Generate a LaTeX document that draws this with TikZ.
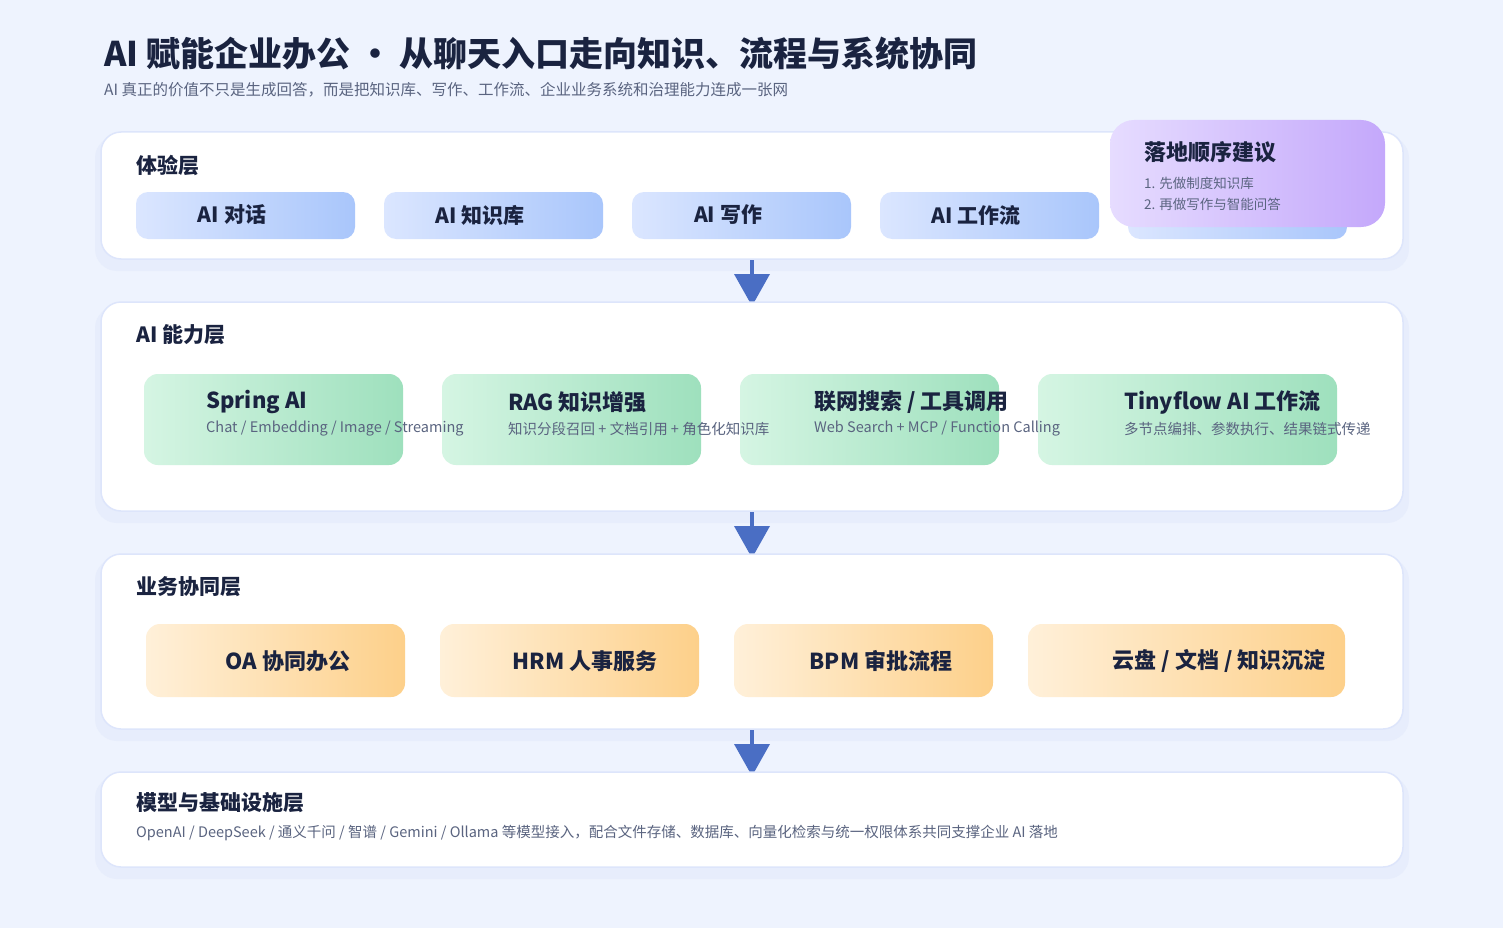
\documentclass[tikz,border=0pt]{standalone}
\usepackage{fontspec}
\setmainfont{Noto Sans CJK SC}
\definecolor{bg}{HTML}{EEF3FE}
\definecolor{ink}{HTML}{1A2340}
\definecolor{sub}{HTML}{5A6480}
\definecolor{pb}{HTML}{DDE5FB}
\definecolor{arr}{HTML}{4A6EC4}
\tikzset{
 panel/.style={draw=pb,line width=1.5pt,fill=white,rounded corners=20pt},
 shad/.style={fill={rgb,255:red,200;green,212;blue,245},opacity=0.18,rounded corners=22pt},
 bbox/.style={rounded corners=12pt,shading=axis,shading angle=135,left color={rgb,255:red,219;green,230;blue,255},right color={rgb,255:red,169;green,198;blue,251}},
 gbox/.style={rounded corners=14pt,shading=axis,shading angle=135,left color={rgb,255:red,213;green,245;blue,227},right color={rgb,255:red,158;green,224;blue,189}},
 obox/.style={rounded corners=14pt,shading=axis,shading angle=135,left color={rgb,255:red,255;green,240;blue,217},right color={rgb,255:red,253;green,208;blue,138}},
 pbox/.style={rounded corners=24pt,shading=axis,shading angle=135,left color={rgb,255:red,230;green,220;blue,255},right color={rgb,255:red,196;green,168;blue,251}},
 lay/.style={anchor=west,font=\bfseries\fontsize{21}{24}\selectfont,text=ink,inner sep=0},
 btxt/.style={font=\bfseries\fontsize{21}{24}\selectfont,text=ink,inner sep=0},
 gt/.style={anchor=west,font=\bfseries\fontsize{22}{26}\selectfont,text=ink,inner sep=0},
 gs/.style={anchor=west,font=\fontsize{14.5}{17}\selectfont,text=sub,inner sep=0},
 down/.style={draw=none,fill=arr},
}
\begin{document}
\begin{tikzpicture}[x=1pt,y=-1pt]
\fill[bg] (0,0) rectangle (1503,928);
\useasboundingbox (0,0) rectangle (1503,928);
\node[anchor=west,inner sep=0,font=\bfseries\fontsize{34}{38}\selectfont,text=ink] (title) at (104,54) {AI 赋能企业办公 · 从聊天入口走向知识、流程与系统协同};
\node[anchor=west,inner sep=0,font=\fontsize{15.5}{18}\selectfont,text=sub] (subt) at (104,90) {AI 真正的价值不只是生成回答，而是把知识库、写作、工作流、企业业务系统和治理能力连成一张网};
% shadows
\foreach \a/\b in {132/259,302/511,554/729,772/867}{
 \fill[shad] (95,\a+4) rectangle (1409,\b+12);
}
% panel 1
\path[panel] (101,132) rectangle (1403,259);
\node[lay] (l1) at (136,165) {体验层};
\foreach \x/\t/\n in {136/{AI 对话}/a1,384/{AI 知识库}/a2,632/{AI 写作}/a3,880/{AI 工作流}/a4,1128/{}/a5}{
 \path[bbox] (\x,192) rectangle ++(219,47);
 \node[btxt] (\n) at (\x+96,215) {\t};
}
\path[pbox] (1110,120) rectangle (1385,227);
\node[anchor=west,inner sep=0,font=\bfseries\fontsize{22}{26}\selectfont,text=ink] (ct) at (1144,152) {落地顺序建议};
\node[anchor=west,inner sep=0,font=\fontsize{13.5}{16}\selectfont,text=sub] (c1) at (1144,183) {1. 先做制度知识库};
\node[anchor=west,inner sep=0,font=\fontsize{13.5}{16}\selectfont,text=sub] (c2) at (1144,204) {2. 再做写作与智能问答};
% arrows
\foreach \y in {260,512,730}{
 \fill[down] (750,\y) rectangle (754,\y+16);
 \fill[down] (734,\y+14) -- (770,\y+14) -- (752,\y+46) -- cycle;
}
% panel 2
\path[panel] (101,302) rectangle (1403,511);
\node[lay] (l2) at (136,335) {AI 能力层};
\foreach \x/\w in {144/259,442/259,740/259,1038/299}{
 \path[gbox] (\x,374) rectangle ++(\w,91);
}
\foreach \x/\ox/\t/\s/\n in {144/62/{Spring AI}/{Chat / Embedding / Image / Streaming}/g1,442/66/{RAG 知识增强}/{知识分段召回 + 文档引用 + 角色化知识库}/g2,740/74/{联网搜索 / 工具调用}/{Web Search + MCP / Function Calling}/g3,1038/86/{Tinyflow AI 工作流}/{多节点编排、参数执行、结果链式传递}/g4}{
 \node[gt] (\n) at (\x+\ox,402) {\t};
 \node[gs] (\n s) at (\x+\ox,429) {\s};
}
% panel 3
\path[panel] (101,554) rectangle (1403,729);
\node[lay] (l3) at (136,587) {业务协同层};
\foreach \x/\w/\c/\t/\n in {146/259/288/{OA 协同办公}/o1,440/259/585/{HRM 人事服务}/o2,734/259/881/{BPM 审批流程}/o3,1028/317/1219/{云盘 / 文档 / 知识沉淀}/o4}{
 \path[obox] (\x,624) rectangle ++(\w,73);
 \node[btxt,font=\bfseries\fontsize{22}{26}\selectfont] (\n) at (\c,661) {\t};
}
% panel 4
\path[panel] (101,772) rectangle (1403,867);
\node[lay] (l4) at (136,803) {模型与基础设施层};
\node[gs] (l4s) at (136,833) {OpenAI / DeepSeek / 通义千问 / 智谱 / Gemini / Ollama 等模型接入，配合文件存储、数据库、向量化检索与统一权限体系共同支撑企业 AI 落地};
\end{tikzpicture}
\end{document}
